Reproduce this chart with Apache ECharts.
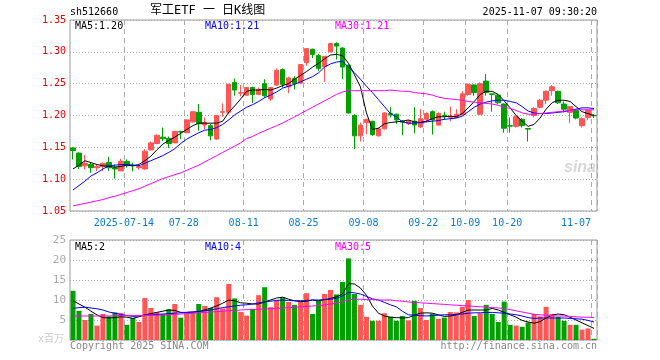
<!DOCTYPE html>
<html><head><meta charset="utf-8">
<script src="https://cdn.jsdelivr.net/npm/echarts@6/dist/echarts.min.js"></script>
<style>html,body{margin:0;padding:0;background:#fff}#c{width:660px;height:360px}</style>
</head><body><div id="c"></div>
<script>
var dates = ['2025-07-01','2025-07-02','2025-07-03','2025-07-04','2025-07-07','2025-07-08','2025-07-09','2025-07-10','2025-07-11',
'2025-07-14','2025-07-15','2025-07-16','2025-07-17','2025-07-18','2025-07-21','2025-07-22','2025-07-23','2025-07-24','2025-07-25',
'2025-07-28','2025-07-29','2025-07-30','2025-07-31','2025-08-01','2025-08-04','2025-08-05','2025-08-06','2025-08-07','2025-08-08',
'2025-08-11','2025-08-12','2025-08-13','2025-08-14','2025-08-15','2025-08-18','2025-08-19','2025-08-20','2025-08-21','2025-08-22',
'2025-08-25','2025-08-26','2025-08-27','2025-08-28','2025-08-29','2025-09-01','2025-09-02','2025-09-03','2025-09-04','2025-09-05',
'2025-09-08','2025-09-09','2025-09-10','2025-09-11','2025-09-12','2025-09-15','2025-09-16','2025-09-17','2025-09-18','2025-09-19',
'2025-09-22','2025-09-23','2025-09-24','2025-09-25','2025-09-26','2025-09-29','2025-09-30',
'2025-10-09','2025-10-10','2025-10-13','2025-10-14','2025-10-15','2025-10-16','2025-10-17',
'2025-10-20','2025-10-21','2025-10-22','2025-10-23','2025-10-24','2025-10-27','2025-10-28','2025-10-29','2025-10-30','2025-10-31',
'2025-11-03','2025-11-04','2025-11-05','2025-11-06','2025-11-07'];
var tickDates = ['2025-07-14','2025-07-28','2025-08-11','2025-08-25','2025-09-08','2025-09-22','2025-10-09','2025-10-20','2025-11-07'];
var tickLabels = ['2025-07-14','07-28','08-11','08-25','09-08','09-22','10-09','10-20','11-07'];

var opens  = [1.149,1.141,1.121,1.123,1.118,1.120,1.126,1.118,1.113,1.128,1.122,1.118,1.116,1.146,1.156,1.166,1.164,1.157,1.175,
1.173,1.190,1.205,1.185,1.184,1.163,1.205,1.205,1.252,1.235,1.232,1.244,1.233,1.250,1.226,1.248,1.272,
1.245,1.258,1.251,1.283,1.304,1.294,1.277,1.300,1.313,1.306,1.279,1.200,1.168,1.189,1.191,1.168,1.179,1.203,
1.202,1.191,1.187,1.191,1.182,1.194,1.206,1.185,1.2005,1.197,1.197,1.201,1.233,1.248,1.202,1.254,1.234,1.232,
1.218,1.184,1.183,1.194,1.1795,1.200,1.213,1.224,1.239,1.238,1.218,1.205,1.208,1.184,1.197,1.2003];
var closes = [1.145,1.120,1.125,1.118,1.120,1.125,1.118,1.116,1.128,1.122,1.121,1.120,1.144,1.157,1.169,1.1635,1.156,1.175,1.174,
1.193,1.206,1.187,1.189,1.168,1.200,1.206,1.249,1.240,1.236,1.244,1.233,1.241,1.231,1.244,1.271,1.249,
1.259,1.250,1.280,1.305,1.296,1.274,1.293,1.313,1.309,1.276,1.204,1.168,1.185,1.194,1.170,1.179,1.204,1.201,
1.193,1.1895,1.191,1.185,1.195,1.203,1.193,1.203,1.1995,1.1985,1.202,1.234,1.249,1.236,1.250,1.236,1.233,1.220,
1.180,1.1833,1.198,1.184,1.1786,1.211,1.224,1.238,1.245,1.220,1.210,1.214,1.196,1.195,1.208,1.1995];
var lows   = [1.131,1.116,1.115,1.110,1.113,1.113,1.113,1.101,1.113,1.118,1.112,1.115,1.115,1.145,1.155,1.160,1.149,1.157,1.163,
1.172,1.189,1.176,1.178,1.161,1.162,1.198,1.202,1.231,1.230,1.231,1.220,1.232,1.228,1.223,1.246,1.244,
1.235,1.241,1.249,1.278,1.290,1.270,1.253,1.299,1.288,1.257,1.203,1.147,1.159,1.171,1.168,1.167,1.178,1.197,
1.187,1.169,1.185,1.172,1.180,1.189,1.170,1.184,1.193,1.191,1.196,1.200,1.231,1.231,1.201,1.231,1.206,1.218,
1.173,1.173,1.181,1.181,1.159,1.197,1.211,1.218,1.231,1.218,1.205,1.188,1.194,1.181,1.193,1.196];
var highs  = [1.150,1.142,1.138,1.126,1.123,1.126,1.135,1.123,1.132,1.131,1.126,1.123,1.147,1.159,1.170,1.181,1.167,1.176,1.176,
1.194,1.206,1.218,1.197,1.187,1.201,1.219,1.250,1.258,1.248,1.244,1.245,1.244,1.257,1.245,1.274,1.274,
1.261,1.262,1.281,1.306,1.305,1.297,1.293,1.314,1.315,1.307,1.280,1.202,1.189,1.195,1.191,1.181,1.205,1.213,
1.203,1.193,1.193,1.213,1.210,1.205,1.208,1.205,1.206,1.214,1.210,1.238,1.250,1.249,1.252,1.265,1.234,1.233,
1.219,1.197,1.200,1.196,1.180,1.213,1.226,1.239,1.248,1.239,1.222,1.215,1.210,1.197,1.209,1.202];

var ma5 = [1.116,1.122,1.129,1.126,1.123,1.121,1.120,1.119,1.120,1.122,1.121,1.123,1.129,1.136,1.146,1.155,1.161,1.166,1.172,
1.178,1.184,1.188,1.188,1.188,1.188,1.191,1.205,1.215,1.226,1.238,1.240,1.240,1.241,1.240,1.243,1.247,
1.250,1.257,1.263,1.269,1.276,1.282,1.289,1.295,1.296,1.294,1.282,1.264,1.245,1.204,1.178,1.180,1.187,1.189,
1.190,1.191,1.193,1.190,1.189,1.191,1.195,1.198,1.198,1.199,1.198,1.203,1.212,1.222,1.233,1.238,1.238,1.233,
1.223,1.212,1.200,1.191,1.183,1.186,1.196,1.210,1.220,1.224,1.224,1.222,1.214,1.206,1.203,1.200];
var ma10 = [1.083,1.090,1.097,1.105,1.110,1.116,1.121,1.122,1.123,1.123,1.122,1.121,1.125,1.129,1.133,1.137,1.142,1.148,1.156,
1.163,1.168,1.173,1.177,1.178,1.181,1.186,1.193,1.201,1.207,1.213,1.217,1.222,1.228,1.232,1.237,1.243,
1.246,1.249,1.253,1.257,1.261,1.267,1.276,1.281,1.284,1.285,1.276,1.267,1.257,1.246,1.236,1.225,1.214,1.203,
1.198,1.190,1.188,1.188,1.189,1.190,1.191,1.192,1.194,1.195,1.196,1.199,1.206,1.213,1.218,1.221,1.223,1.224,
1.224,1.222,1.220,1.214,1.207,1.204,1.203,1.203,1.204,1.205,1.206,1.208,1.210,1.212,1.212,1.211];
var ma30 = [1.058,1.060,1.062,1.064,1.066,1.068,1.071,1.073,1.076,1.079,1.082,1.085,1.089,1.093,1.097,1.101,1.104,1.107,1.110,
1.114,1.118,1.122,1.127,1.132,1.137,1.142,1.147,1.152,1.157,1.164,1.167,1.172,1.176,1.180,1.184,1.188,
1.193,1.198,1.203,1.208,1.213,1.218,1.223,1.228,1.233,1.237,1.239,1.239,1.239,1.239,1.239,1.239,1.239,1.240,
1.239,1.238,1.238,1.236,1.235,1.234,1.232,1.229,1.227,1.226,1.225,1.224,1.222,1.221,1.220,1.219,1.218,1.216,
1.213,1.211,1.208,1.204,1.202,1.202,1.203,1.204,1.205,1.206,1.207,1.208,1.209,1.209,1.209,1.209];

var volumes = [12.3,7.3,5.0,6.5,3.6,6.5,5.9,6.9,6.7,3.8,5.5,4.5,10.5,8.0,6.9,6.5,7.7,9.0,5.6,
7.0,7.0,9.0,8.5,8.0,10.7,7.9,14.0,10.4,7.0,6.1,7.8,11.2,13.2,8.2,10.0,10.7,
9.5,8.8,9.8,11.7,6.5,9.8,11.5,12.5,11.4,14.5,20.4,11.5,8.8,5.8,4.8,4.8,6.7,5.8,
4.8,6.0,4.9,9.8,8.0,5.0,6.6,5.3,5.6,7.0,6.9,8.3,10.0,6.0,6.7,8.8,6.5,4.5,
9.6,3.8,3.6,3.3,4.4,6.5,5.9,8.3,6.5,5.8,4.8,3.8,3.8,2.6,2.9,0.3];
var vma5 = [9.8,9.0,8.2,7.2,6.3,5.6,5.5,5.6,5.8,5.7,5.4,5.8,6.3,6.6,6.9,7.2,7.5,7.4,6.9,
6.9,7.0,7.1,7.5,8.0,8.5,9.2,10.0,9.8,9.3,9.2,9.0,9.0,9.5,10.0,10.5,10.7,
10.2,9.8,9.6,9.7,10.0,9.8,10.1,10.4,10.8,11.5,14.1,14.0,13.0,11.2,8.5,6.7,6.0,5.7,
5.6,5.5,5.6,6.2,6.7,6.8,6.7,6.3,5.9,6.0,6.3,6.9,7.5,7.5,7.5,7.5,7.9,7.5,
6.9,6.3,5.7,4.9,4.5,4.2,4.6,5.5,6.2,6.5,6.3,5.7,5.0,4.3,3.6,2.9];
var vma10 = [7.9,8.1,8.2,8.0,7.8,7.5,7.0,6.7,6.4,6.1,5.9,6.0,6.2,6.3,6.4,6.5,6.6,6.7,6.8,
6.9,7.0,7.1,7.3,7.5,7.8,8.1,8.3,8.5,8.7,8.8,9.0,9.3,9.5,9.7,9.9,10.0,
9.9,9.8,9.8,9.9,10.0,10.0,10.1,10.2,10.4,11.0,11.9,11.8,11.5,10.9,10.3,10.0,9.4,8.8,
8.3,7.2,6.3,6.2,6.1,6.0,6.1,6.2,6.3,6.3,6.4,6.5,6.7,6.8,6.8,6.9,6.9,6.8,
6.7,6.5,6.3,6.0,5.6,5.4,5.5,5.5,5.5,5.5,5.5,5.4,5.3,5.2,4.9,4.5];
var vma30 = [6.0,6.0,6.0,6.0,6.0,6.0,6.0,6.1,6.1,6.1,6.1,6.1,6.1,6.2,6.2,6.2,6.3,6.4,6.5,
6.6,6.7,6.8,6.9,7.0,7.1,7.2,7.3,7.4,7.5,7.6,7.6,7.7,7.7,7.8,7.9,8.0,
8.1,8.2,8.3,8.4,8.5,8.6,8.8,9.0,9.2,9.6,10.0,10.2,10.2,10.1,10.1,10.0,10.0,10.0,
9.8,9.7,9.5,9.4,9.3,9.2,9.1,9.0,8.9,8.8,8.7,8.6,8.5,8.4,8.3,8.2,8.1,8.0,
7.9,7.6,7.3,7.0,6.7,6.4,6.3,6.2,6.1,6.0,6.0,5.9,5.8,5.7,5.7,5.6];

var UP = '#ff5555', DOWN = '#00a000';
var MONO = "'DejaVu Sans Mono','Noto Sans CJK SC',monospace";
var candleData = dates.map(function (d, i) { return [opens[i], closes[i], lows[i], highs[i]]; });
var volData = dates.map(function (d, i) {
  return { value: volumes[i], itemStyle: { color: closes[i] >= opens[i] ? UP : DOWN } };
});
function isTick(idx) { return tickDates.indexOf(dates[idx]) >= 0; }

var chart = echarts.init(document.getElementById('c'), null, { renderer: 'canvas' });
var gridLine = { show: true, lineStyle: { color: '#aaa', type: [1, 2], width: 1 } };
var vLine = { show: true, interval: function (idx) { return isTick(idx); }, lineStyle: { color: '#aaa', type: [5, 4], width: 1 } };
var option = {
  animation: false,
  backgroundColor: '#fff',
  grid: [
    { left: 70, right: 63, top: 20, height: 191, show: true, borderColor: '#999', borderWidth: 1, backgroundColor: 'transparent' },
    { left: 70, right: 63, top: 240, height: 100, show: true, borderColor: '#999', borderWidth: 1, backgroundColor: 'transparent' }
  ],
  xAxis: [
    { type: 'category', gridIndex: 0, data: dates, boundaryGap: true,
      axisLine: { show: false }, axisTick: { show: false },
      splitLine: vLine,
      axisLabel: { show: true, interval: function (idx) { return isTick(idx); },
        formatter: function (v) {
          var k = tickDates.indexOf(v);
          if (k < 0) return '';
          return (k === tickDates.length - 1 ? '{e|' : '{a|') + tickLabels[k] + '}';
        },
        rich: {
          a: { color: '#0a7bd0', fontFamily: MONO, fontSize: 10, padding: [0, 6, 0, 0] },
          e: { color: '#0a7bd0', fontFamily: MONO, fontSize: 10, padding: [0, 36, 0, 0] }
        },
        color: '#0a7bd0', fontFamily: MONO, fontSize: 10, margin: 7 } },
    { type: 'category', gridIndex: 1, data: dates, boundaryGap: true,
      axisLine: { show: false }, axisTick: { show: false }, axisLabel: { show: false },
      splitLine: vLine }
  ],
  yAxis: [
    { type: 'value', gridIndex: 0, min: 1.05, max: 1.35, interval: 0.05,
      axisLine: { show: false }, axisTick: { show: false }, splitLine: gridLine,
      axisLabel: { color: '#e00', fontFamily: MONO, fontSize: 10, margin: 4, formatter: function (v) { return v.toFixed(2); } } },
    { type: 'value', gridIndex: 1, min: 0, max: 25, interval: 5,
      axisLine: { show: false }, axisTick: { show: false }, splitLine: gridLine,
      axisLabel: { color: '#aaa', fontFamily: MONO, fontSize: 11, margin: 4, formatter: function (v) { return v === 0 ? '' : String(v); } } }
  ],
  series: [
    { type: 'candlestick', xAxisIndex: 0, yAxisIndex: 0, data: candleData, barWidth: 5,
      itemStyle: { color: UP, color0: DOWN, borderColor: UP, borderColor0: DOWN, borderWidth: 1 } },
    { type: 'line', xAxisIndex: 0, yAxisIndex: 0, data: ma5, symbol: 'none', lineStyle: { color: '#000', width: 1 } },
    { type: 'line', xAxisIndex: 0, yAxisIndex: 0, data: ma10, symbol: 'none', lineStyle: { color: '#0000ff', width: 1 } },
    { type: 'line', xAxisIndex: 0, yAxisIndex: 0, data: ma30, symbol: 'none', lineStyle: { color: '#ff00ff', width: 1 } },
    { type: 'bar', xAxisIndex: 1, yAxisIndex: 1, data: volData, barWidth: 5 },
    { type: 'line', xAxisIndex: 1, yAxisIndex: 1, data: vma5, symbol: 'none', lineStyle: { color: '#000', width: 1 } },
    { type: 'line', xAxisIndex: 1, yAxisIndex: 1, data: vma10, symbol: 'none', lineStyle: { color: '#0000ff', width: 1 } },
    { type: 'line', xAxisIndex: 1, yAxisIndex: 1, data: vma30, symbol: 'none', lineStyle: { color: '#ff00ff', width: 1 } }
  ],
  graphic: [
    { type: 'text', left: 70, top: 7, style: { text: 'sh512660', font: '10px ' + MONO, fill: '#000' } },
    { type: 'text', left: 150, top: 5, style: { text: '军工ETF 一 日K线图', font: '12px ' + MONO, fill: '#000' } },
    { type: 'text', right: 63, top: 7, style: { text: '2025-11-07 09:30:20', font: '10px ' + MONO, fill: '#000' } },
    { type: 'text', left: 75, top: 21, style: { text: 'MA5:1.20', font: '10px ' + MONO, fill: '#000' } },
    { type: 'text', left: 205, top: 21, style: { text: 'MA10:1.21', font: '10px ' + MONO, fill: '#0000ff' } },
    { type: 'text', left: 335, top: 21, style: { text: 'MA30:1.21', font: '10px ' + MONO, fill: '#ff00ff' } },
    { type: 'text', left: 75, top: 242, style: { text: 'MA5:2', font: '10px ' + MONO, fill: '#000' } },
    { type: 'text', left: 205, top: 242, style: { text: 'MA10:4', font: '10px ' + MONO, fill: '#0000ff' } },
    { type: 'text', left: 335, top: 242, style: { text: 'MA30:5', font: '10px ' + MONO, fill: '#ff00ff' } },
    { type: 'text', left: 38, top: 334, style: { text: 'x百万', font: '10px ' + MONO, fill: '#ccc' } },
    { type: 'text', left: 70, top: 341, style: { text: 'Copyright 2025 SINA.COM', font: '10px ' + MONO, fill: '#888' } },
    { type: 'text', right: 63, top: 341, style: { text: 'http://finance.sina.com.cn', font: '10px ' + MONO, fill: '#888' } },
    { type: 'text', right: 64, top: 160, style: { text: 'sina', font: 'italic bold 16px sans-serif', fill: '#d8d8d8' } }
  ]
};
chart.setOption(option);
</script></body></html>
